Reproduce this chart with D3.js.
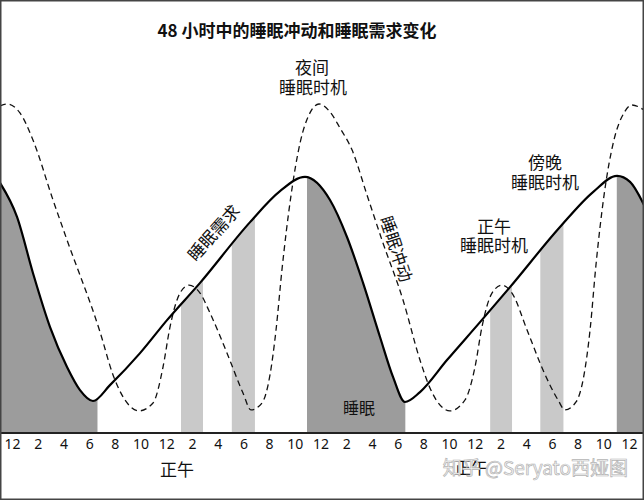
<!DOCTYPE html>
<html>
<head>
<meta charset="utf-8">
<script src="https://cdn.jsdelivr.net/npm/d3@7"></script>
<style>
  body { margin: 0; background: #fff; }
  svg { display: block; }
  text { font-family: "Noto Sans CJK SC", "Noto Sans", sans-serif; fill: #111; }
</style>
</head>
<body>
<svg></svg>
<script>
// hours counted from the first midnight, level 0..100
const needHours = [-0.93, 0.39, 1.63, 2.96, 4.28, 5.29, 6.30, 7.62, 9.96, 12.06, 14.63, 18.52, 20.85, 22.79,
    24.74, 26.06, 27.31, 28.63, 29.64, 30.57, 31.74, 33.84, 36.41, 38.74, 42.63, 45.20, 47.07, 48.08, 49.17];
const needLevels = [75.8, 65.5, 48.5, 32.1, 20.0, 13.0, 9.7, 14.5, 24.2, 34.2, 45.5, 63.9, 73.3, 77.6,
    70.6, 59.4, 45.5, 29.1, 17.0, 9.4, 12.4, 22.1, 33.6, 44.2, 62.4, 73.0, 77.9, 76.1, 69.1];

const driveHours = [-0.93, -0.39, 0.62, 1.63, 3.19, 4.28, 6.85, 7.86, 8.79, 9.88, 10.97, 11.75, 12.29, 13.07,
    13.77, 14.63, 15.40, 16.73, 17.97, 18.59, 19.45, 20.07, 20.54, 21.00, 21.71, 22.41, 23.18, 23.88,
    24.74, 25.52, 26.45, 27.62, 28.78, 30.42, 31.74, 32.52, 34.07, 35.24, 36.02, 36.56, 37.34, 38.12,
    38.90, 40.07, 41.31, 42.48, 43.02, 43.88, 44.50, 44.97, 45.43, 46.06, 46.83, 47.61, 48.23, 49.17];
const driveLevels = [99.1, 99.7, 97.0, 88.8, 70.6, 58.5, 30.6, 17.6, 10.0, 6.7, 9.1, 20.0, 32.1, 42.4,
    44.8, 42.4, 36.4, 24.2, 12.1, 7.0, 9.1, 17.6, 31.2, 49.4, 72.1, 87.9, 97.0, 99.7,
    97.3, 92.4, 85.8, 72.1, 58.5, 40.3, 22.1, 13.6, 6.7, 10.0, 20.0, 32.1, 42.4, 44.8,
    42.4, 31.2, 19.1, 10.0, 7.0, 9.4, 17.6, 31.2, 50.9, 72.1, 88.8, 97.0, 99.4, 97.9];

// night sleep (dark) and nap windows (light)
const sleepStart = [-1.5, 22.95, 47.05];
const sleepEnd = [6.65, 30.6, 50];
const napStart = [13.15, 17.1, 37.2, 41.1];
const napEnd = [14.85, 18.9, 38.9, 42.9];

const tickHours = [0, 2, 4, 6, 8, 10, 12, 14, 16, 18, 20, 22, 24, 26, 28, 30, 32, 34, 36, 38, 40, 42, 44, 46, 48];
const tickLabels = ["12", "2", "4", "6", "8", "10", "12", "2", "4", "6", "8", "10",
    "12", "2", "4", "6", "8", "10", "12", "2", "4", "6", "8", "10", "12"];

const title = "48 小时中的睡眠冲动和睡眠需求变化";

const width = 644, height = 500;
const svg = d3.select("svg").attr("width", width).attr("height", height);

const x = d3.scaleLinear().domain([0, 48]).range([12, 629]);
const y = d3.scaleLinear().domain([0, 100]).range([433, 103]);

const need = needHours.map((h, i) => ({h: h, v: needLevels[i]}));
const drive = driveHours.map((h, i) => ({h: h, v: driveLevels[i]}));

// plot area clip
const defs = svg.append("defs");
defs.append("clipPath").attr("id", "plot")
    .append("rect").attr("x", 0).attr("y", 0).attr("width", width).attr("height", y(0));

const area = d3.area()
    .x(d => x(d.h))
    .y0(y(0))
    .y1(d => y(d.v))
    .curve(d3.curveMonotoneX);

function shade(starts, ends, color, name) {
    starts.forEach((s, i) => {
        const id = name + i;
        defs.append("clipPath").attr("id", id)
            .append("rect")
            .attr("x", x(s)).attr("y", 0)
            .attr("width", x(ends[i]) - x(s)).attr("height", y(0));
        svg.append("g").attr("clip-path", "url(#plot)")
            .append("path")
            .datum(need)
            .attr("clip-path", `url(#${id})`)
            .attr("d", area)
            .attr("fill", color);
    });
}

shade(sleepStart, sleepEnd, "#9c9c9c", "sleep");
shade(napStart, napEnd, "#c9c9c9", "nap");

const line = d3.line()
    .x(d => x(d.h))
    .y(d => y(d.v))
    .curve(d3.curveMonotoneX);

const curves = svg.append("g").attr("clip-path", "url(#plot)");
curves.append("path").datum(drive)
    .attr("d", line)
    .attr("fill", "none")
    .attr("stroke", "#111")
    .attr("stroke-width", 1.3)
    .attr("stroke-dasharray", "6,4");
curves.append("path").datum(need)
    .attr("d", line)
    .attr("fill", "none")
    .attr("stroke", "#000")
    .attr("stroke-width", 2.2);

// baseline and hour labels
svg.append("line")
    .attr("x1", 0).attr("x2", width)
    .attr("y1", y(0)).attr("y2", y(0))
    .attr("stroke", "#222").attr("stroke-width", 2);

const axis = d3.axisBottom(x)
    .tickValues(tickHours)
    .tickFormat((d, i) => tickLabels[i])
    .tickSize(0)
    .tickPadding(6);
const gx = svg.append("g").attr("transform", `translate(0, ${y(0)})`).call(axis);
gx.select(".domain").remove();
gx.selectAll("text")
    .style("font-family", "'Noto Sans', sans-serif")
    .style("font-size", "14px")
    .attr("fill", "#111");

// texts
function label(txt, px, py, size, rot, weight) {
    svg.append("text")
        .attr("transform", `translate(${px}, ${py}) rotate(${rot || 0})`)
        .attr("text-anchor", "middle")
        .attr("dy", "0.35em")
        .style("font-size", size + "px")
        .style("font-weight", weight || "normal")
        .text(txt);
}

label(title, 297, 31, 17, 0, "bold");
label("夜间", 312, 68, 17);
label("睡眠时机", 313, 88, 17);
label("傍晚", 545, 163, 17);
label("睡眠时机", 545, 183, 17);
label("正午", 494, 227, 17);
label("睡眠时机", 494, 246, 17);
label("睡眠需求", 214, 233, 17, -48);
label("睡眠冲动", 396, 249, 17, 72);
label("睡眠", 359, 408, 16);
label("正午", 177, 470, 17);
label("正午", 471, 468, 17);

// watermark
svg.append("text")
    .attr("x", 628).attr("y", 468)
    .attr("dy", "0.35em")
    .attr("text-anchor", "end")
    .style("font-size", "19px")
    .style("fill", "#f4f4f4")
    .style("stroke", "#b4b4b4")
    .style("stroke-width", 0.7)
    .text("知乎 @Seryato西娅图");

// frame
svg.append("rect")
    .attr("x", 0.75).attr("y", 0.75)
    .attr("width", width - 1.5).attr("height", height - 1.5)
    .attr("fill", "none")
    .attr("stroke", "#444")
    .attr("stroke-width", 1.5);
</script>
</body>
</html>
